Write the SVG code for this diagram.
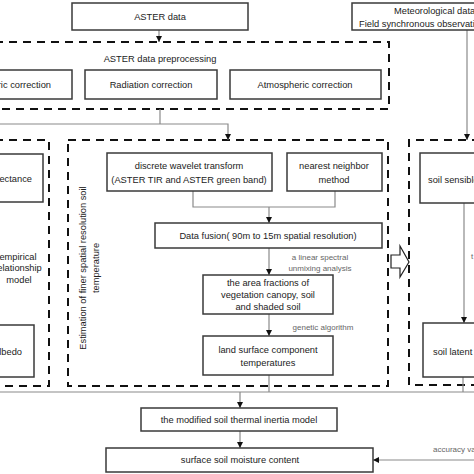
<svg xmlns="http://www.w3.org/2000/svg" width="474" height="474" viewBox="0 0 474 474">
<defs>
<style>
.box{fill:#fff;stroke:#3a3a3a;stroke-width:1.5}
.dash{fill:none;stroke:#111;stroke-width:2;stroke-dasharray:8,6}
.con{fill:none;stroke:#8a8a8a;stroke-width:1.2}
.t{font-family:"Liberation Sans",Arial,sans-serif;font-size:9.3px;fill:#222;text-anchor:middle}
.s{font-family:"Liberation Sans",Arial,sans-serif;font-size:8px;fill:#666;text-anchor:middle}
</style>
<marker id="ah" viewBox="0 0 10 10" refX="10" refY="5" markerWidth="6" markerHeight="6" orient="auto" markerUnits="userSpaceOnUse">
<path d="M0,0 L10,5 L0,10 z" fill="#111"/>
</marker>
</defs>
<rect width="474" height="474" fill="#fff"/>

<g id="groups">
<path class="dash" d="M-5,42 H389 V109 H-5"/>
<path class="dash" d="M-5,140 H49 V386 H-5"/>
<rect class="dash" x="68" y="140" width="320" height="246"/>
<path class="dash" d="M480,140 H409 V385 H480"/>
</g>

<g id="connectors">
<path class="con" d="M159,30 V42" marker-end="url(#ah)"/>
<path class="con" d="M160,109 V124 M0,124 H228 V140" marker-end="url(#ah)"/>
<path class="con" d="M467,30 V140" marker-end="url(#ah)"/>
<path class="con" d="M193,191 V207 H335 V191 M269,207 V223" marker-end="url(#ah)"/>
<path class="con" d="M269,248 V275" marker-end="url(#ah)"/>
<path class="con" d="M269,314 V336" marker-end="url(#ah)"/>
<path class="con" d="M269,375 V392 M463,377 V392 M0,392 H474 M240,392 V408" marker-end="url(#ah)"/>
<path class="con" d="M240,431 V448" marker-end="url(#ah)"/>
<path class="con" d="M464,203 V323" marker-end="url(#ah)"/>
<path class="con" d="M474,460 H373" marker-end="url(#ah)"/>
<path d="M391,255 H400 V246 L409,262 L400,277 V268 H391 Z" fill="#fff" stroke="#222" stroke-width="1.2"/>
<text class="s" x="320" y="260">a linear spectral</text>
<text class="s" x="320" y="271">unmixing analysis</text>
<text class="s" x="323" y="330">genetic algorithm</text>
<text class="s" x="433" y="452" style="text-anchor:start">accuracy validation</text>
<text class="s" x="471" y="259" style="text-anchor:start">t</text>
</g>

<g id="aster-data">
<rect class="box" x="72" y="3" width="176" height="27"/>
<text class="t" x="160" y="20">ASTER data</text>
</g>
<g id="meteorological-data">
<rect class="box" x="352" y="3" width="130" height="27"/>
<text class="t" x="394" y="14" style="text-anchor:start">Meteorological data</text>
<text class="t" x="359" y="27" style="text-anchor:start">Field synchronous observation</text>
</g>
<g id="preprocessing">
<text class="t" x="160" y="62">ASTER data preprocessing</text>
</g>
<g id="geometric-correction">
<rect class="box" x="-70" y="70" width="142" height="29"/>
<text class="t" x="51" y="88" style="text-anchor:end">Geometric correction</text>
</g>
<g id="radiation-correction">
<rect class="box" x="85" y="70" width="132" height="29"/>
<text class="t" x="151" y="88">Radiation correction</text>
</g>
<g id="atmospheric-correction">
<rect class="box" x="230" y="70" width="151" height="29"/>
<text class="t" x="305" y="88">Atmospheric correction</text>
</g>
<g id="reflectance">
<rect class="box" x="-60" y="154" width="103" height="48"/>
<text class="t" x="32" y="182" style="text-anchor:end">reflectance</text>
</g>
<g id="empirical-model">
<text class="t" x="18" y="260">empirical</text>
<text class="t" x="18" y="271">relationship</text>
<text class="t" x="19" y="283">model</text>
</g>
<g id="albedo">
<rect class="box" x="-60" y="325" width="94" height="52"/>
<text class="t" x="22" y="355" style="text-anchor:end">albedo</text>
</g>
<g id="estimation-title">
<text class="t" transform="translate(86,268) rotate(-90)">Estimation of finer spatial resolution soil</text>
<text class="t" transform="translate(99,268) rotate(-90)">temperature</text>
</g>
<g id="dwt">
<rect class="box" x="107" y="153" width="165" height="38"/>
<text class="t" x="189" y="169">discrete wavelet transform</text>
<text class="t" x="189" y="183">(ASTER TIR and ASTER green band)</text>
</g>
<g id="nearest-neighbor">
<rect class="box" x="287" y="153" width="95" height="38"/>
<text class="t" x="334" y="169">nearest neighbor</text>
<text class="t" x="334" y="183">method</text>
</g>
<g id="data-fusion">
<rect class="box" x="155" y="223" width="227" height="25"/>
<text class="t" x="268" y="239">Data fusion( 90m to 15m spatial resolution)</text>
</g>
<g id="area-fractions">
<rect class="box" x="203" y="275" width="130" height="39"/>
<text class="t" x="268" y="286">the area fractions of</text>
<text class="t" x="268" y="298">vegetation canopy, soil</text>
<text class="t" x="268" y="310">and shaded soil</text>
</g>
<g id="component-temperatures">
<rect class="box" x="203" y="336" width="130" height="39"/>
<text class="t" x="268" y="353">land surface component</text>
<text class="t" x="268" y="366">temperatures</text>
</g>
<g id="soil-sensible">
<rect class="box" x="420" y="153" width="70" height="50"/>
<text class="t" x="428" y="183" style="text-anchor:start">soil sensible heat flux</text>
</g>
<g id="soil-latent">
<rect class="box" x="423" y="323" width="70" height="54"/>
<text class="t" x="433" y="355" style="text-anchor:start">soil latent heat flux</text>
</g>
<g id="thermal-inertia">
<rect class="box" x="141" y="408" width="196" height="23"/>
<text class="t" x="239" y="423">the modified soil thermal inertia model</text>
</g>
<g id="soil-moisture">
<rect class="box" x="106" y="448" width="267" height="24"/>
<text class="t" x="240" y="463">surface soil moisture content</text>
</g>
</svg>
